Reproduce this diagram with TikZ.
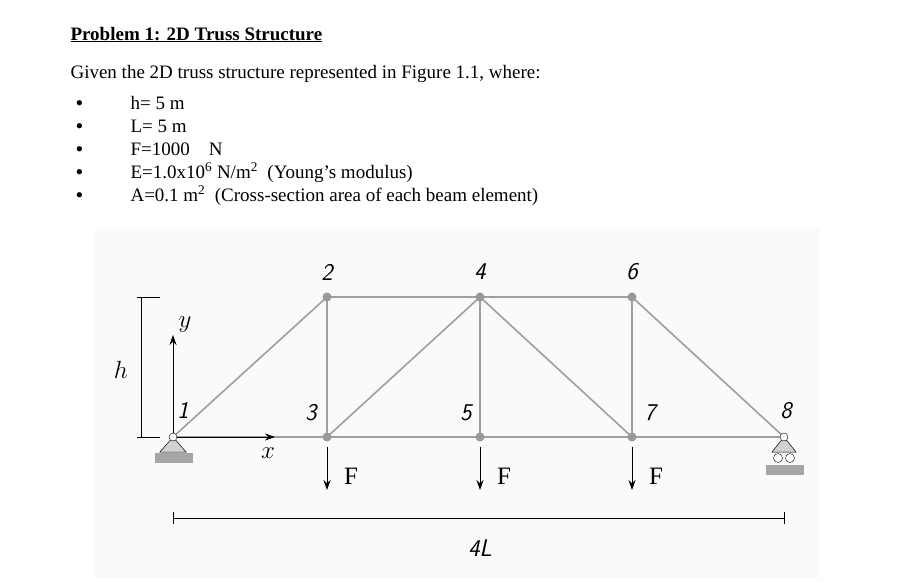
\documentclass[tikz,border=0pt]{standalone}
\usepackage{fontspec}
\setmainfont{Liberation Serif}
\usetikzlibrary{arrows.meta}
\begin{document}
\begin{tikzpicture}[x=1pt,y=-1pt,
  mem/.style={draw=gray!75,line width=2.2pt},
  jnt/.style={circle,fill=gray!80,inner sep=0pt,minimum size=9pt},
  num/.style={font=\sffamily\itshape\fontsize{24}{26}\selectfont},
  txt/.style={anchor=base west,font=\fontsize{19}{21}\selectfont},
  dim/.style={draw=black,line width=0.8pt},
  ax/.style={draw=black,line width=0.9pt,-{Stealth[length=10pt,width=7pt]}}]
\useasboundingbox (0,0) rectangle (916,582);
\fill[gray!4] (95,228) rectangle (820,578);
\node[txt,font=\bfseries\fontsize{19}{21}\selectfont] (t) at (67,40) {\underline{Problem 1: 2D Truss Structure}};
\node[txt] (g) at (67,78) {Given the 2D truss structure represented in Figure 1.1, where:};
\foreach \yy/\s in {109/{h= 5 m},132/{L= 5 m},155/{F=1000\quad N},178/{E=1.0x10\textsuperscript{6} N/m\textsuperscript{2} \ (Young's modulus)},201/{A=0.1 m\textsuperscript{2} \ (Cross-section area of each beam element)}}{
  \node[txt,font=\fontsize{22}{22}\selectfont] at (72,\yy+1) {\textbullet};
  \node[txt] at (127,\yy) {\s};
}
\coordinate (n1) at (173,437);
\coordinate (n2) at (327,297);
\coordinate (n3) at (327,437);
\coordinate (n4) at (480,297);
\coordinate (n5) at (480,437);
\coordinate (n6) at (632,297);
\coordinate (n7) at (632,437);
\coordinate (n8) at (784,437);
\draw[mem] (n1)--(n3)--(n5)--(n7)--(n8);
\draw[mem] (n2)--(n4)--(n6);
\draw[mem] (n2)--(n3) (n4)--(n5) (n6)--(n7);
\draw[mem,line width=1.6pt] (n1)--(n2) (n3)--(n4) (n4)--(n7) (n6)--(n8);
\foreach \n in {n2,n3,n4,n5,n6,n7} \node[jnt] at (\n) {};
\draw[ax] (n1) -- (275,437);
\draw[ax] (n1) -- (173,335);
\node[font=\fontsize{26}{26}\selectfont] (xl) at (268,453) {$x$};
\node[font=\fontsize{26}{26}\selectfont] (yl) at (185,325) {$y$};
\fill[gray!35,draw=black,line width=0.5pt] (173,437) -- (160,452) -- (186,452) -- cycle;
\fill[gray!70] (155,453) rectangle (193,463);
\node[circle,draw=black,fill=white,inner sep=0pt,minimum size=8pt] at (n1) {};
\fill[gray!35,draw=black,line width=0.5pt] (784,437) -- (772,452) -- (796,452) -- cycle;
\draw[fill=white] (778,458) circle (4.5pt) (790,458) circle (4.5pt);
\fill[gray!70] (766,465) rectangle (804,475);
\node[circle,draw=black,fill=white,inner sep=0pt,minimum size=8pt] at (n8) {};
\node[num] at (327,272) {2};
\node[num] at (480,272) {4};
\node[num] at (632,272) {6};
\node[num] at (183,410) {1};
\node[num] at (311,413) {3};
\node[num] at (466,413) {5};
\node[num] at (650,413) {7};
\node[num] at (786,411) {8};
\foreach \xx in {327,480,632}{
  \draw[ax] (\xx,447) -- (\xx,490);
  \node[font=\fontsize{25}{25}\selectfont] at (\xx+24,476) {F};
}
\draw[dim] (141,297) -- (141,437);
\draw[dim] (137,297) -- (160,297);
\draw[dim] (137,437) -- (160,437);
\node[font=\fontsize{26}{26}\selectfont] at (121,370) {$h$};
\draw[dim] (173,518) -- (784,518);
\draw[dim] (173,512) -- (173,524) (784,512) -- (784,524);
\node[num] at (480,548) {4L};
\end{tikzpicture}
\end{document}
